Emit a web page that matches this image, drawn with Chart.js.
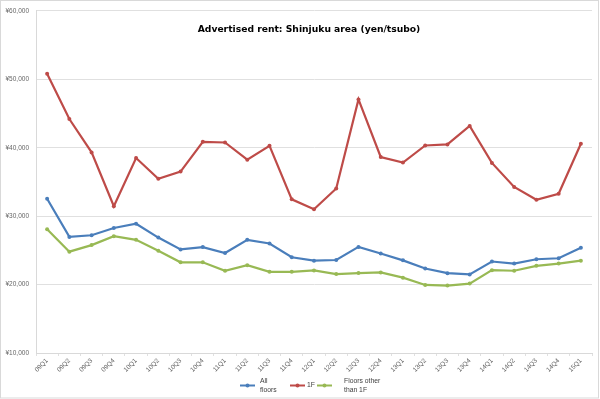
<!DOCTYPE html>
<html>
<head>
<meta charset="utf-8">
<script src="https://cdn.jsdelivr.net/npm/chart.js@4/dist/chart.umd.min.js"></script>
<style>
  html, body { margin: 0; padding: 0; background: #fff; }
  #wrap { width: 600px; height: 399px; position: relative; }
</style>
</head>
<body>
<div id="wrap"><canvas id="myChart" width="600" height="399"></canvas></div>
<script>
// quarters on the x axis
const quarters = ['09Q1', '09Q2', '09Q3', '09Q4', '10Q1', '10Q2', '10Q3', '10Q4',
    '11Q1', '11Q2', '11Q3', '11Q4', '12Q1', '12Q2', '12Q3', '12Q4',
    '13Q1', '13Q2', '13Q3', '13Q4', '14Q1', '14Q2', '14Q3', '14Q4', '15Q1'];

// yen per tsubo
const allFloors = [32550, 26970, 27210, 28270, 28890, 26870, 25140, 25480, 24610, 26540, 26010, 23990,
    23500, 23590, 25510, 24550, 23540, 22350, 21670, 21490, 23370, 23070, 23700, 23850, 25380];
const firstFloor = [50830, 44200, 39320, 31450, 38500, 35460, 36520, 40870, 40770, 38260, 40290, 32460,
    31010, 34040, 47060, 38650, 37830, 40330, 40480, 43190, 37780, 34280, 32400, 33270, 40580];
const otherFloors = [28080, 24810, 25770, 27070, 26540, 24950, 23260, 23260, 22020, 22830, 21870, 21870,
    22070, 21540, 21680, 21780, 21010, 19950, 19860, 20140, 22110, 22020, 22740, 23070, 23500];

const seriesNames = [['All', 'floors'], ['1F'], ['Floors other', 'than 1F']];
const seriesColors = ['#4a7ebb', '#be4b48', '#98b954'];
const chartTitle = 'Advertised rent: Shinjuku area (yen/tsubo)';

const tickFont = { family: 'Liberation Sans', size: 6.5 };

function makeSet(label, data, color) {
    return {
        label: label,
        data: data,
        borderColor: color,
        backgroundColor: color,
        borderWidth: 2.2,
        pointRadius: 2,
        pointHoverRadius: 2,
        pointBorderWidth: 0,
        tension: 0
    };
}

// title drawn inside the plot, plus outer border and bottom legend
const decorations = {
    id: 'decorations',
    afterDraw(chart) {
        const { ctx, chartArea: { left, right } } = chart;
        ctx.save();

        ctx.strokeStyle = '#d9d9d9';
        ctx.lineWidth = 1;
        ctx.strokeRect(0.5, 0.5, 598, 397.5);

        ctx.font = 'bold 9.2px "DejaVu Sans"';
        ctx.fillStyle = '#000';
        ctx.textAlign = 'center';
        ctx.textBaseline = 'middle';
        ctx.fillText(chartTitle, (left + right) / 2 - 5, 30);

        // legend
        const legendX = [240, 290, 317];
        const legendY = 385.5;
        ctx.font = '6.8px "Liberation Sans"';
        ctx.textAlign = 'left';
        for (let i = 0; i < seriesNames.length; i++) {
            const x0 = legendX[i];
            ctx.strokeStyle = seriesColors[i];
            ctx.lineWidth = 2;
            ctx.beginPath();
            ctx.moveTo(x0, legendY);
            ctx.lineTo(x0 + 15, legendY);
            ctx.stroke();
            ctx.fillStyle = seriesColors[i];
            ctx.beginPath();
            ctx.arc(x0 + 7.5, legendY, 2, 0, Math.PI * 2);
            ctx.fill();

            ctx.fillStyle = '#404040';
            const lines = seriesNames[i];
            const tx = i === 1 ? x0 + 17 : x0 + (i === 0 ? 20 : 27);
            if (lines.length === 1) {
                ctx.fillText(lines[0], tx, legendY);
            } else {
                ctx.fillText(lines[0], tx, legendY - 4.5);
                ctx.fillText(lines[1], tx, legendY + 4.5);
            }
        }
        ctx.restore();
    }
};

const config = {
    type: 'line',
    data: {
        labels: quarters,
        datasets: [
            makeSet('All floors', allFloors, seriesColors[0]),
            makeSet('1F', firstFloor, seriesColors[1]),
            makeSet('Floors other than 1F', otherFloors, seriesColors[2])
        ]
    },
    options: {
        responsive: false,
        animation: false,
        layout: { padding: { top: 8, right: 8, left: 0, bottom: 0 } },
        plugins: {
            legend: { display: false },
            title: { display: false },
            tooltip: { enabled: false }
        },
        scales: {
            x: {
                offset: true,
                grid: {
                    offset: true,
                    drawOnChartArea: false,
                    drawTicks: true,
                    tickLength: 3,
                    color: '#e0e0e0'
                },
                border: { color: '#d9d9d9' },
                ticks: {
                    font: tickFont,
                    color: '#666',
                    minRotation: 45,
                    maxRotation: 45,
                    autoSkip: false,
                    padding: 1
                },
                afterFit(scale) { scale.height = 46; }
            },
            y: {
                min: 10000,
                max: 60000,
                grid: { color: '#e0e0e0', drawTicks: false },
                border: { color: '#d9d9d9' },
                ticks: {
                    stepSize: 10000,
                    font: tickFont,
                    color: '#666',
                    padding: 7,
                    callback: (v) => '¥' + v.toLocaleString('en-US')
                },
                afterFit(scale) { scale.width = 36; }
            }
        }
    },
    plugins: [decorations]
};

const myChart = new Chart(document.getElementById('myChart'), config);
</script>
</body>
</html>
